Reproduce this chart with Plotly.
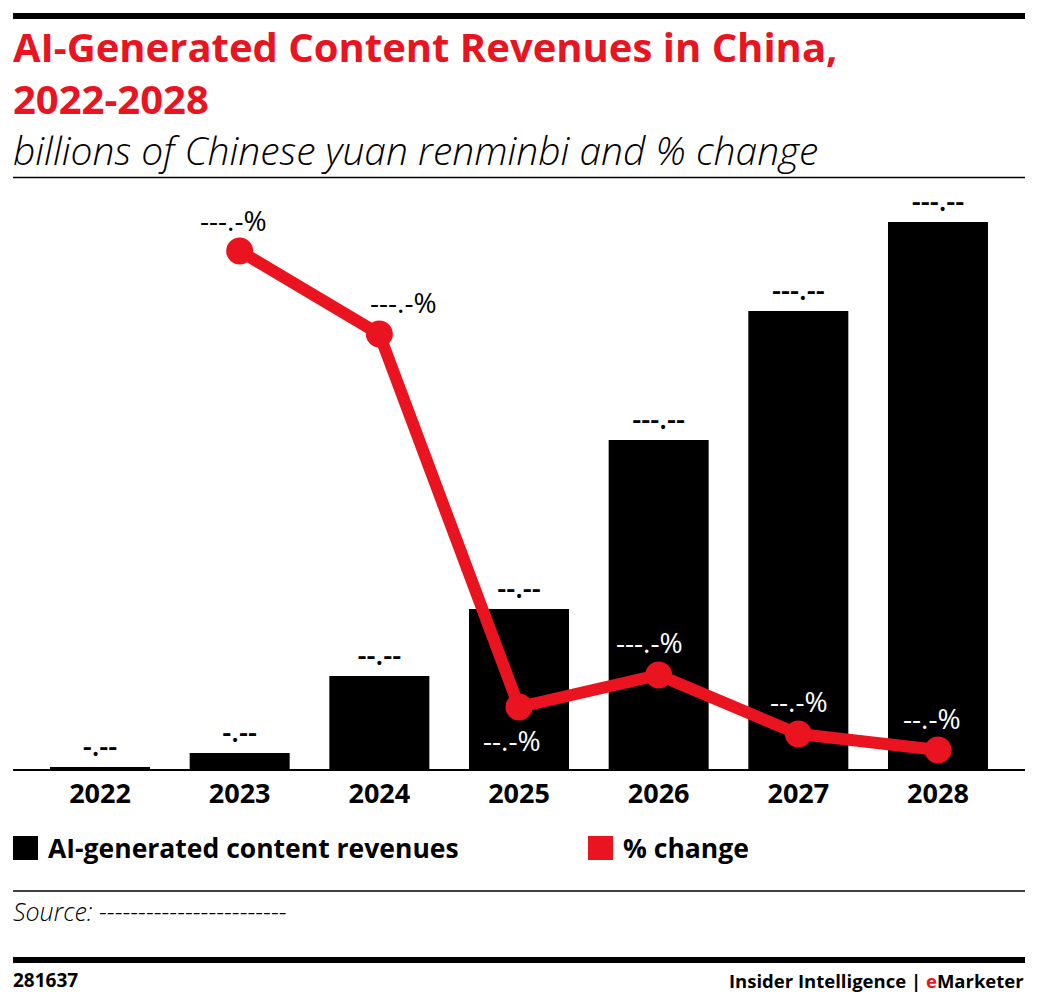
import plotly.graph_objects as go

# ---------------- data ----------------
years = ["2022", "2023", "2024", "2025", "2026", "2027", "2028"]
revenues = [1.2, 9.4, 54.7, 94.1, 193.5, 269.4, 321.8]          # billions of CNY (estimated)
pct_change = [None, 673.4, 565.5, 80.6, 122.2, 45.5, 24.7]        # % change (estimated)
bar_labels = ["-.--", "-.--", "--.--", "--.--", "---.--", "---.--", "---.--"]
pct_labels = [None, "---.-%", "---.-%", "--.-%", "---.-%", "--.-%", "--.-%"]

# ---------------- styles ----------------
RED = "#E9141F"
FONT = "Open Sans"
pct_dx = [0, -6, 24, -7, -9, 1, -6]
pct_dy = [0, 31, 32, -33, 33, 33, 32]
pct_col = ["black", "black", "black", "white", "white", "white", "white"]

W, H = 1038, 1005
L, R = 13, 1025
TOP, BOT = 190, 769


def px_x(px):
    return (px - L) / (R - L)


def px_y(py):
    return (BOT - py) / (BOT - TOP)


fig = go.Figure()

fig.add_trace(go.Bar(
    x=years, y=revenues,
    marker=dict(color="black", line=dict(width=0)),
    text=bar_labels, textposition="outside",
    textfont=dict(family=FONT, size=28, color="black", weight=600),
    cliponaxis=False, showlegend=False, hoverinfo="skip",
))

fig.add_trace(go.Scatter(
    x=years, y=pct_change, yaxis="y2",
    mode="lines+markers",
    line=dict(color=RED, width=12),
    marker=dict(color=RED, size=27),
    showlegend=False, hoverinfo="skip", cliponaxis=False,
))

annotations = []
for i, (yr, v, lab) in enumerate(zip(years, pct_change, pct_labels)):
    if v is None or lab is None:
        continue
    annotations.append(dict(
        x=i, y=v, xref="x", yref="y2", text=lab, showarrow=False,
        xanchor="center", yanchor="middle",
        xshift=pct_dx[i], yshift=pct_dy[i],
        font=dict(family=FONT, size=28, color=pct_col[i], weight=500),
    ))

# Title / subtitle
annotations += [
    dict(x=px_x(11), y=px_y(72), xref="paper", yref="paper", xanchor="left", yanchor="middle",
         align="left",
         text="<b>AI-Generated Content Revenues in China,<br>2022-2028</b>", showarrow=False,
         font=dict(family=FONT, size=40, color=RED)),
    dict(x=px_x(11), y=px_y(150), xref="paper", yref="paper", xanchor="left", yanchor="middle",
         text="<i>billions of Chinese yuan renminbi and % change</i>", showarrow=False,
         font=dict(family=FONT, size=39, color="black", weight=300)),
]

# Legend (custom)
legend_items = [("AI-generated content revenues", "black", 13), ("% change", RED, 588)]
shapes = []
for name, col, x0 in legend_items:
    shapes.append(dict(type="rect", xref="paper", yref="paper",
                       x0=px_x(x0), x1=px_x(x0 + 25), y0=px_y(860), y1=px_y(836),
                       fillcolor=col, line=dict(width=0)))
    annotations.append(dict(x=px_x(x0 + 33), y=px_y(848), xref="paper", yref="paper",
                            xanchor="left", yanchor="middle", text="<b>" + name + "</b>",
                            showarrow=False, font=dict(family=FONT, size=26.5, color="black")))

# Rules
shapes += [
    dict(type="rect", xref="paper", yref="paper", x0=px_x(L), x1=px_x(R), y0=px_y(19), y1=px_y(13),
         fillcolor="black", line=dict(width=0)),
    dict(type="line", xref="paper", yref="paper", x0=px_x(L), x1=px_x(R), y0=px_y(177.5), y1=px_y(177.5),
         line=dict(color="black", width=1.5)),
    dict(type="line", xref="paper", yref="paper", x0=px_x(L), x1=px_x(R), y0=px_y(891), y1=px_y(891),
         line=dict(color="black", width=1.5)),
    dict(type="rect", xref="paper", yref="paper", x0=px_x(L), x1=px_x(R), y0=px_y(963), y1=px_y(957),
         fillcolor="black", line=dict(width=0)),
]

# Source + footer
annotations += [
    dict(x=px_x(11), y=px_y(911), xref="paper", yref="paper", xanchor="left", yanchor="middle",
         text="<i>Source: ------------------------</i>", showarrow=False,
         font=dict(family=FONT, size=25, color="black", weight=300)),
    dict(x=px_x(11), y=px_y(980), xref="paper", yref="paper", xanchor="left", yanchor="middle",
         text="<b>281637</b>", showarrow=False,
         font=dict(family=FONT, size=19, color="black")),
    dict(x=px_x(1026), y=px_y(980), xref="paper", yref="paper", xanchor="right", yanchor="middle",
         text="<b>Insider Intelligence | <span style='color:" + RED + "'>e</span>Marketer</b>",
         showarrow=False, font=dict(family=FONT, size=18.5, color="black")),
]

fig.update_layout(
    width=W, height=H,
    margin=dict(l=L, r=W - R, t=TOP, b=H - BOT, pad=0),
    paper_bgcolor="white", plot_bgcolor="white",
    bargap=0.284,
    xaxis=dict(type="category", range=[-0.623, 6.623], showline=True, linecolor="black", linewidth=2,
               ticks="", showgrid=False, zeroline=False, ticklabelstandoff=0,
               tickfont=dict(family=FONT, size=27, color="black", weight="bold")),
    yaxis=dict(range=[0, 340.6], showticklabels=False, showline=False, ticks="",
               showgrid=False, zeroline=False),
    yaxis2=dict(range=[0, 752.7], overlaying="y", side="right", showticklabels=False, showline=False,
                ticks="", showgrid=False, zeroline=False),
    annotations=annotations, shapes=shapes,
    font=dict(family=FONT),
)

fig.write_html("out.html")
